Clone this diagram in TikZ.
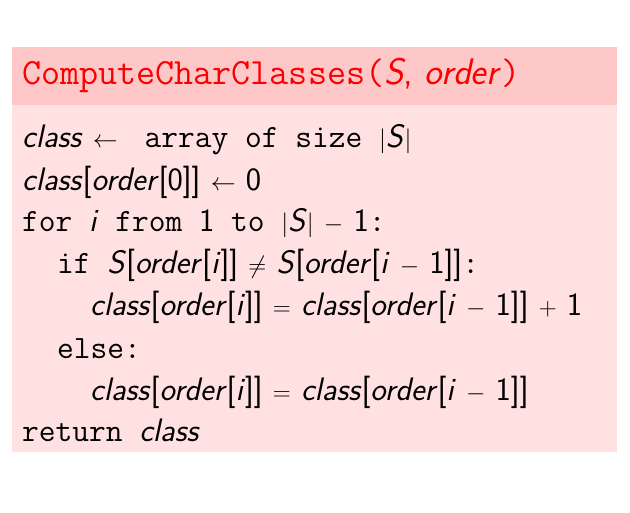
\documentclass[tikz,border=0pt]{standalone}
\usepackage{fontspec}
\definecolor{hdr}{RGB}{255,200,200}
\definecolor{bdy}{RGB}{255,225,225}
\definecolor{ttl}{RGB}{250,0,0}
\newcommand{\V}[1]{\textsf{\itshape #1}}
\newcommand{\T}[1]{\texttt{#1}}
\tikzset{line/.style={anchor=base west,inner sep=0pt,font=\fontsize{32.5}{36}\selectfont\sffamily}}
\begin{document}
\begin{tikzpicture}[x=1pt,y=-1pt]
\useasboundingbox (0,0) rectangle (630,513);
\fill[bdy] (12,105) rectangle (617,452);
\fill[hdr] (12,47) rectangle (617,105);
\node[line,text=ttl,font=\fontsize{37}{40}\selectfont\sffamily] (t) at (22,85) {\T{ComputeCharClasses(}\V{S}, \V{order}\T{)}};
\node[line] (l1) at (22,148) {\V{class} $\leftarrow$ \T{ array of size }$|$\V{S}$|$};
\node[line] (l2) at (22,191) {\V{class}[\V{order}[0]] $\leftarrow$ 0};
\node[line] (l3) at (22,232) {\T{for }\V{i}\T{ from }1\T{ to }$|$\V{S}$|$ $-$ 1\T{:}};
\node[line] (l4) at (57,274) {\T{if }\V{S}[\V{order}[\V{i}]] $\neq$ \V{S}[\V{order}[\V{i} $-$ 1]]\T{:}};
\node[line] (l5) at (90,316) {\V{class}[\V{order}[\V{i}]] $=$ \V{class}[\V{order}[\V{i} $-$ 1]] $+$ 1};
\node[line] (l6) at (57,359) {\T{else:}};
\node[line] (l7) at (90,400) {\V{class}[\V{order}[\V{i}]] $=$ \V{class}[\V{order}[\V{i} $-$ 1]]};
\node[line] (l8) at (22,442) {\T{return }\V{class}};
\end{tikzpicture}
\end{document}
